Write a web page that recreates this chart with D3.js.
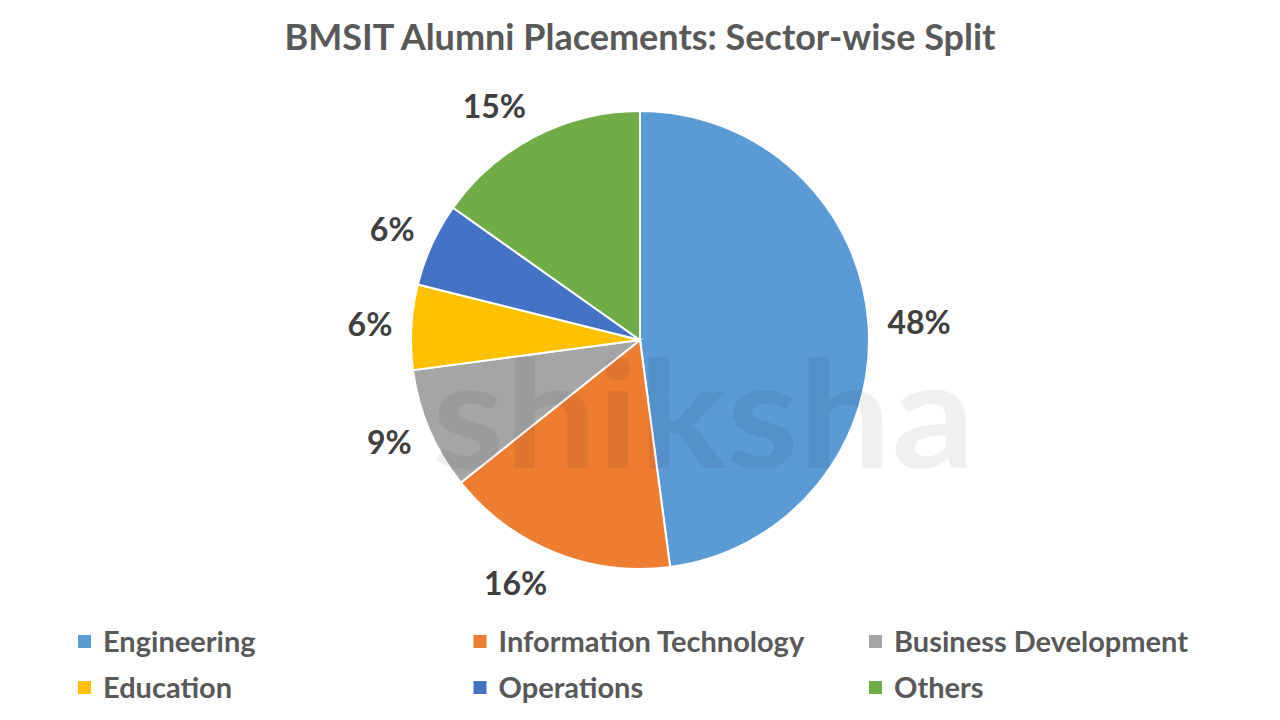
<!DOCTYPE html>
<html>
<head>
<meta charset="utf-8">
<script src="https://cdn.jsdelivr.net/npm/d3@7"></script>
<style>
  body { margin: 0; background: #fff; }
  svg { display: block; font-family: Lato, "Open Sans", sans-serif; }
</style>
</head>
<body>
<script>
// data (share of placements, %)
const sectors = ["Engineering", "Information Technology", "Business Development", "Education", "Operations", "Others"];
const shares = [47.9, 16.4, 8.6, 6.0, 5.9, 15.2];
const colors = ["#5B9BD5", "#ED7D31", "#A5A5A5", "#FFC000", "#4472C4", "#70AD47"];
const title = "BMSIT Alumni Placements: Sector-wise Split";

let width = 1280, height = 720;
let cx = 640, cy = 340, radius = 229;

let svg = d3.select("body").append("svg")
    .attr("width", width)
    .attr("height", height);

// title
svg.append("text")
    .attr("x", width / 2)
    .attr("y", 50)
    .attr("text-anchor", "middle")
    .style("font-size", "36px")
    .style("font-weight", "bold")
    .style("fill", "#595959")
    .text(title);

let total = d3.sum(shares);
let rows = sectors.map((s, i) => ({ sector: s, value: shares[i], color: colors[i] }));

let pie = d3.pie()
    .sort(null)
    .value(d => d.value);

let arc = d3.arc()
    .innerRadius(0)
    .outerRadius(radius);

let labelArc = d3.arc()
    .innerRadius(248)
    .outerRadius(248);

let g = svg.append("g")
    .attr("transform", "translate(" + cx + "," + cy + ")");

let slices = g.selectAll(".arc")
    .data(pie(rows))
    .enter().append("g")
    .attr("class", "arc");

slices.append("path")
    .attr("d", arc)
    .style("fill", d => d.data.color)
    .style("stroke", "#fff")
    .style("stroke-width", 2);

// faint watermark over the pie
svg.append("text")
    .attr("x", 432)
    .attr("y", 468)
    .attr("textLength", 543)
    .attr("lengthAdjust", "spacingAndGlyphs")
    .style("font-size", "150px")
    .style("font-weight", "bold")
    .style("fill", "#000")
    .style("fill-opacity", 0.06)
    .text("shiksha");

// outside-end labels
let labels = svg.append("g")
    .attr("transform", "translate(" + cx + "," + cy + ")");

labels.selectAll("text")
    .data(pie(rows))
    .enter().append("text")
    .attr("transform", d => {
        let p = labelArc.centroid(d);
        let mid = (d.startAngle + d.endAngle) / 2;
        return "translate(" + p[0] + "," + (p[1] - Math.cos(mid) * 15) + ")";
    })
    .attr("dy", ".35em")
    .attr("text-anchor", d => ((d.startAngle + d.endAngle) / 2 < Math.PI ? "start" : "end"))
    .style("font-size", "32px")
    .style("font-weight", "bold")
    .style("fill", "#404040")
    .text(d => Math.round(d.data.value / total * 100) + "%");

// legend
let colX = d3.scaleLinear().domain([0, 2]).range([78, 869]);
let rowY = d3.scaleLinear().domain([0, 1]).range([642, 688]);

let legend = svg.selectAll(".legend")
    .data(rows)
    .enter().append("g")
    .attr("class", "legend")
    .attr("transform", (d, i) => "translate(" + colX(i % 3) + "," + rowY(Math.floor(i / 3)) + ")");

legend.append("rect")
    .attr("x", 0)
    .attr("y", -7)
    .attr("width", 13)
    .attr("height", 13)
    .style("fill", d => d.color);

legend.append("text")
    .attr("x", 25)
    .attr("dy", ".35em")
    .style("font-size", "29px")
    .style("font-weight", "bold")
    .style("fill", "#595959")
    .text(d => d.sector);
</script>
</body>
</html>
